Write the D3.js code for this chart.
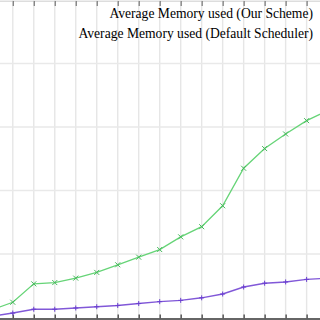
<!DOCTYPE html>
<html>
<head>
<meta charset="utf-8">
<script src="https://cdn.jsdelivr.net/npm/d3@7"></script>
<style>
  body { margin: 0; background: #fff; }
  svg { display: block; }
</style>
</head>
<body>
<svg width="320" height="320"></svg>
<script>
// time steps (the visible window of the chart)
const steps = [0, 1, 2, 3, 4, 5, 6, 7, 8, 9, 10, 11, 12, 13, 14, 15, 16]
// average memory, default scheduler (green)
const defaultMem = [12, 24, 53, 55, 62, 71, 83, 95, 107, 127, 143, 176, 235, 266, 289, 310, 326]
// average memory, our scheme (purple)
const schemeMem = [2, 7, 13, 13, 15, 17, 19, 22, 25, 27, 31, 37, 48, 54, 56, 60, 62]
const yTicks = [0, 100, 200, 300, 400, 500]
const legendLabels = ['Average Memory used (Our Scheme)', 'Average Memory used (Default Scheduler)']

const svg = d3.select('svg')

const xScale = d3.scaleLinear()
  .domain([0, 16])
  .range([-8.2, 327.6])

const yScale = d3.scaleLinear()
  .domain([0, 500])
  .range([317.5, 0])

// grid
svg.append('g')
  .selectAll('line')
  .data(steps)
  .enter()
  .append('line')
  .attr('x1', d => xScale(d))
  .attr('x2', d => xScale(d))
  .attr('y1', 0)
  .attr('y2', 318)
  .attr('stroke', '#e6e6e6')
  .attr('stroke-width', 1.4)

svg.append('g')
  .selectAll('line')
  .data(yTicks.slice(1))
  .enter()
  .append('line')
  .attr('x1', 0)
  .attr('x2', 320)
  .attr('y1', d => yScale(d))
  .attr('y2', d => yScale(d))
  .attr('stroke', '#e9e9e9')
  .attr('stroke-width', 1.4)

// top + bottom axes, ticks pointing inward, labels are out of frame
const bottomAxis = svg.append('g')
  .attr('transform', 'translate(0, 318.5)')
  .call(d3.axisBottom(xScale).tickValues(steps).tickSize(-4).tickFormat(''))
bottomAxis.select('.domain').attr('stroke', '#666').attr('stroke-width', 2)
bottomAxis.selectAll('.tick line').attr('stroke', '#555').attr('stroke-width', 1.5)

const topAxis = svg.append('g')
  .attr('transform', 'translate(0, 1)')
  .call(d3.axisTop(xScale).tickValues(steps).tickSize(-5).tickFormat(''))
topAxis.select('.domain').attr('stroke', '#ddd').attr('stroke-width', 1)
topAxis.selectAll('.tick line').attr('stroke', '#777').attr('stroke-width', 1.2)

const line = d3.line()
  .x((d, i) => xScale(steps[i]))
  .y(d => yScale(d))

// green series
svg.append('path')
  .datum(defaultMem)
  .attr('d', line)
  .attr('fill', 'none')
  .attr('stroke', '#66d477')
  .attr('stroke-width', 1.3)

svg.append('g')
  .selectAll('path')
  .data(defaultMem)
  .enter()
  .append('path')
  .attr('transform', (d, i) => `translate(${xScale(steps[i])}, ${yScale(d)})`)
  .attr('d', 'M-2.5,-2.5L2.5,2.5M-2.5,2.5L2.5,-2.5')
  .attr('stroke', '#45b85a')
  .attr('stroke-width', 1)

// purple series
svg.append('path')
  .datum(schemeMem)
  .attr('d', line)
  .attr('fill', 'none')
  .attr('stroke', '#8158d8')
  .attr('stroke-width', 1.4)

svg.append('g')
  .selectAll('path')
  .data(schemeMem)
  .enter()
  .append('path')
  .attr('transform', (d, i) => `translate(${xScale(steps[i])}, ${yScale(d)})`)
  .attr('d', 'M-2.5,0L2.5,0M0,-2.5L0,2.5')
  .attr('stroke', '#6a3fd0')
  .attr('stroke-width', 1)

// legend text (markers are out of frame)
svg.append('g')
  .selectAll('text')
  .data(legendLabels)
  .enter()
  .append('text')
  .attr('x', 313)
  .attr('y', (d, i) => 17.5 + i * 20)
  .attr('text-anchor', 'end')
  .attr('font-family', '"Liberation Serif", "DejaVu Serif", serif')
  .attr('font-size', 13.6)
  .attr('fill', '#000')
  .text(d => d)
</script>
</body>
</html>
